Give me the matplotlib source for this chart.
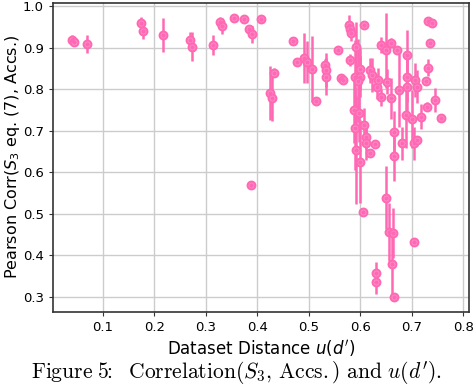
import matplotlib
matplotlib.use("Agg")
import matplotlib.pyplot as plt
import numpy as np

plt.rcParams['mathtext.fontset'] = 'dejavusans'

# Dataset distance u(d')
dist = [0.040, 0.043, 0.068, 0.174, 0.178, 0.217, 0.270, 0.273, 0.313, 0.328,
        0.332, 0.355, 0.375, 0.383, 0.389, 0.407, 0.387, 0.425, 0.428, 0.433,
        0.470, 0.477, 0.491, 0.496, 0.506, 0.514, 0.531, 0.533, 0.533, 0.556,
        0.563, 0.567, 0.579, 0.581, 0.583, 0.608, 0.592, 0.581, 0.600, 0.590,
        0.619, 0.623, 0.640, 0.650, 0.660, 0.671, 0.690, 0.732, 0.740, 0.735,
        0.731, 0.727, 0.746, 0.652, 0.659, 0.640, 0.675, 0.690, 0.706, 0.710,
        0.690, 0.632, 0.635, 0.600, 0.596, 0.587, 0.597, 0.590, 0.608, 0.612,
        0.612, 0.629, 0.592, 0.619, 0.600, 0.665, 0.681, 0.665, 0.705, 0.710,
        0.688, 0.700, 0.719, 0.730, 0.757, 0.651, 0.605, 0.655, 0.663, 0.704,
        0.662, 0.631, 0.631, 0.666]
# Pearson correlation (mean)
corr = [0.918, 0.913, 0.908, 0.958, 0.940, 0.930, 0.918, 0.902, 0.906, 0.962,
        0.952, 0.971, 0.969, 0.944, 0.932, 0.968, 0.570, 0.790, 0.778, 0.840,
        0.917, 0.866, 0.874, 0.866, 0.849, 0.772, 0.858, 0.846, 0.830, 0.894,
        0.826, 0.822, 0.954, 0.945, 0.935, 0.954, 0.902, 0.870, 0.848, 0.829,
        0.846, 0.834, 0.906, 0.894, 0.912, 0.894, 0.882, 0.965, 0.958, 0.912,
        0.852, 0.820, 0.774, 0.818, 0.778, 0.780, 0.798, 0.830, 0.822, 0.806,
        0.806, 0.806, 0.822, 0.830, 0.820, 0.750, 0.742, 0.706, 0.714, 0.686,
        0.670, 0.667, 0.654, 0.647, 0.626, 0.698, 0.670, 0.639, 0.670, 0.678,
        0.738, 0.728, 0.734, 0.758, 0.730, 0.539, 0.505, 0.457, 0.455, 0.432,
        0.379, 0.359, 0.337, 0.300]
# Error (std)
err = [0.012, 0.008, 0.022, 0.015, 0.020, 0.040, 0.020, 0.035, 0.025, 0.012,
       0.020, 0.005, 0.005, 0.010, 0.020, 0.004, 0.005, 0.065, 0.055, 0.010,
       0.005, 0.005, 0.060, 0.050, 0.080, 0.005, 0.015, 0.040, 0.045, 0.005,
       0.008, 0.008, 0.025, 0.020, 0.020, 0.005, 0.060, 0.015, 0.050, 0.090,
       0.030, 0.040, 0.020, 0.090, 0.010, 0.010, 0.060, 0.005, 0.004, 0.004,
       0.020, 0.005, 0.030, 0.030, 0.050, 0.020, 0.090, 0.060, 0.040, 0.040,
       0.070, 0.030, 0.030, 0.050, 0.100, 0.080, 0.070, 0.100, 0.040, 0.030,
       0.040, 0.005, 0.130, 0.005, 0.100, 0.050, 0.040, 0.060, 0.040, 0.010,
       0.080, 0.070, 0.030, 0.010, 0.005, 0.075, 0.005, 0.070, 0.060, 0.005,
       0.080, 0.025, 0.030, 0.005]

xticks = [0.1, 0.2, 0.3, 0.4, 0.5, 0.6, 0.7, 0.8]
yticks = [0.3, 0.4, 0.5, 0.6, 0.7, 0.8, 0.9, 1.0]

pink = '#ff69b4'

fig = plt.figure(figsize=(4.74, 3.89), dpi=100)
ax = fig.add_axes([0.112, 0.199, 0.877, 0.793])

ax.grid(True, color='#cccccc', lw=1.0, zorder=0)
ax.set_axisbelow(True)
ax.errorbar(dist, corr, yerr=err, fmt='none', ecolor=pink, elinewidth=1.8, zorder=2)
ax.plot(dist, corr, 'o', ms=5.6, mfc='#ff9ccf', mec=pink, mew=1.5, ls='none', zorder=3)
ax.plot(dist, corr, 'o', ms=2.2, mfc=pink, mec=pink, ls='none', zorder=4)

ax.set_xlim(0.003, 0.811)
ax.set_ylim(0.265, 1.007)
ax.set_xticks(xticks)
ax.set_yticks(yticks)
ax.set_xticklabels([f"{v:.1f}" for v in xticks])
ax.set_yticklabels([f"{v:.1f}" for v in yticks])
ax.tick_params(labelsize=9.5, length=3, color='#333333')
for s in ax.spines.values():
    s.set_color('#333333')
    s.set_linewidth(1.2)

ax.set_xlabel(r"Dataset Distance $u(d')$", fontsize=12, labelpad=3)
ax.set_ylabel(r"Pearson Corr($S_3$ eq. (7), Accs.)", fontsize=11.5, labelpad=1)

fig.text(0.5, 0.040,
         r"$\mathrm{Figure\ 5\!\!:\ \ Correlation}(S_3,\,\mathrm{Accs.})\ \mathrm{and}\ u(d').$",
         ha='center', va='center', fontsize=15.5, math_fontfamily='cm')

fig.savefig('out.png', dpi=100)
